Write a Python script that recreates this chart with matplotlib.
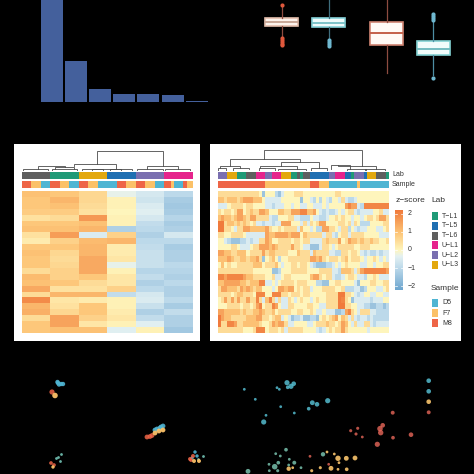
import numpy as np
import matplotlib
matplotlib.use("Agg")
import matplotlib.pyplot as plt
from matplotlib.colors import LinearSegmentedColormap, ListedColormap
from matplotlib.patches import Rectangle

plt.rcParams["font.family"] = ["Liberation Sans", "DejaVu Sans"]

# Bars
bar_values = [105, 40.5, 12.5, 7.5, 8, 6.5, 1]

# Boxes (y runs downwards)
box_stats = [
    dict(q1=26, med=22, q3=18, whislo=36, whishi=7, fliers=[5, 38, 40, 42, 44, 45]),
    dict(q1=27, med=22.5, q3=18, whislo=38, whishi=0, fliers=[40, 42, 44, 46]),
    dict(q1=45, med=32.5, q3=21.5, whislo=73, whishi=0, fliers=[]),
    dict(q1=55, med=48.5, q3=41, whislo=75, whishi=22, fliers=[14, 16, 18, 20, 78]),
]
box_edge = ["#e5bfae", "#86d3da", "#cf8472", "#84d3d4"]
box_median = ["#c9a797", "#7cc3c9", "#c4604a", "#74bcc0"]
box_whisker = ["#8e4c40", "#3f6d7c", "#8e4c40", "#4d8ea3"]
box_flier = ["#e0583c", "#6fb8d0", "#8e4c40", "#6fb8d0"]
box_fill = ["#fdf3ec", "#effbfb", "#fffaf6", "#f1fcfb"]

# Left heatmap, z-score per lab block
left_z = [
    [1.0, 0.9, 0.6, -0.3, -0.6, -1.0],
    [0.9, 1.2, 0.6, 0.1, -0.7, -1.3],
    [0.9, 1.0, 0.5, 0.1, -0.5, -1.4],
    [0.8, 0.8, 0.4, 0.0, -0.4, -1.3],
    [0.4, 0.5, 1.7, 0.1, -0.6, -1.1],
    [0.9, 0.9, 1.0, 0.1, -0.9, -1.3],
    [1.0, 1.0, 1.2, -1.2, -1.0, -1.2],
    [0.4, 1.6, -0.5, 0.7, -1.2, -0.6],
    [0.2, 0.7, 1.1, 1.2, -1.0, -1.0],
    [0.9, 0.9, 1.2, 0.2, -0.9, -1.3],
    [1.0, 0.6, 1.2, 0.2, -0.8, -1.2],
    [0.9, 0.5, 1.4, 0.3, -0.8, -1.2],
    [0.9, 0.6, 1.4, -0.3, -0.8, -1.0],
    [0.5, 0.7, 1.4, 0.1, -1.1, -1.1],
    [1.1, 0.7, 0.9, 0.3, -0.9, -1.2],
    [1.0, 0.9, 0.5, 0.3, -1.2, -1.0],
    [1.4, 0.4, 0.4, 0.7, -1.0, -1.2],
    [0.5, 1.2, 1.2, -0.9, -0.6, -1.2],
    [1.9, 0.3, 0.2, 0.1, -0.5, -1.0],
    [1.2, 0.4, 0.9, 0.1, -0.8, -1.3],
    [1.3, 0.6, 0.9, 0.2, -1.2, -0.9],
    [0.5, 1.5, 0.7, 0.3, -0.9, -1.2],
    [0.9, 1.5, 0.3, 0.1, -0.4, -1.2],
    [0.9, 1.0, 1.0, -0.4, 0.1, -1.4],
]

# Right heatmap, in half z-score steps, one row per gene
right_half_z = [
    [1,1,1,1,1,1,1,1,1,1,1,1,1,0,-3,0,0,0,-2,-3,-1,0,0,0,1,1,1,0,0,0,0,0,0,0,0,0,0,1,1,0,0,0,0,0,0,0,0,0,0,0,0,0,0,0],
    [2,2,1,2,2,2,1,2,3,3,3,2,2,2,0,-1,-1,-1,-1,-1,0,0,0,0,0,0,-3,0,0,-1,-2,0,-2,0,-1,-2,0,0,-1,1,-1,-2,-2,-1,0,0,0,0,0,0,0,0,0,0],
    [-1,-1,-1,0,1,1,1,1,0,1,1,0,0,0,0,-1,-1,-2,-1,-1,-1,0,0,-1,0,0,-1,-1,0,0,-1,-1,-1,0,-1,0,0,0,0,0,3,4,3,3,-1,-2,4,4,4,4,4,4,4,4],
    [1,0,1,1,0,1,3,3,0,1,2,1,1,3,3,2,0,0,0,2,2,1,1,3,3,3,4,4,2,2,3,0,-1,-2,-1,-2,-2,-1,0,-1,0,1,1,-1,-2,-1,-1,-1,-1,0,0,1,-1,-1],
    [2,3,2,2,1,2,3,3,2,1,3,3,1,1,1,1,-1,-2,-2,0,0,0,1,1,-1,-1,-2,-2,-2,0,-1,-1,-2,-2,-1,0,0,1,0,1,0,0,-1,0,0,-1,0,1,1,0,1,3,3,1],
    [5,5,1,2,2,1,2,1,2,1,0,1,-1,-1,-2,-1,-1,-2,-1,-1,3,3,3,0,0,0,-1,1,-1,1,0,1,3,3,0,0,0,0,1,1,0,1,-1,1,0,-2,-2,-2,0,0,0,0,1,1],
    [5,5,1,1,0,-1,1,1,3,3,2,2,2,2,2,3,1,0,0,1,0,1,1,1,1,-1,2,0,0,-1,0,-2,-2,3,3,1,1,0,-1,1,1,-2,0,-1,-2,-1,-1,0,0,0,-1,-1,0,1],
    [1,1,0,0,1,1,1,1,0,-1,-1,-1,-1,-1,-1,3,2,2,3,3,3,3,2,3,3,3,0,2,1,1,1,1,1,-1,1,1,-1,-2,0,1,1,-1,1,1,1,1,0,0,0,0,0,-1,-1,-1],
    [0,0,-1,-2,-3,-3,-3,-2,-2,-1,-2,-1,-1,1,1,3,2,0,0,1,1,1,1,0,1,1,0,1,1,-1,-1,-1,-1,1,2,1,1,1,3,0,1,3,2,2,1,2,1,1,2,1,1,0,0,1],
    [0,0,0,0,1,1,0,-1,-1,-1,0,1,1,3,3,3,2,3,2,1,1,1,1,3,1,1,0,-1,-1,-3,-3,-3,-1,1,1,0,-1,0,1,1,1,1,1,0,0,1,1,1,0,0,0,0,0,0],
    [3,3,2,2,1,1,2,2,2,0,1,1,1,1,3,1,2,2,1,1,1,1,0,0,0,2,1,1,1,-1,2,1,1,1,1,-1,-1,-2,-2,1,1,0,1,1,0,-1,-2,-1,-2,-2,-1,-2,-1,-1],
    [2,2,2,3,2,1,1,2,2,1,2,2,3,1,-3,0,1,2,0,-2,0,0,1,1,1,1,1,1,1,3,3,2,3,1,0,1,1,1,0,1,2,0,1,1,1,0,-1,0,0,1,0,-1,0,-1],
    [0,2,0,1,0,0,1,1,1,1,1,2,2,2,0,1,1,1,2,0,-1,0,0,1,1,0,1,1,0,-1,-2,-3,-3,-3,-2,-2,-1,0,-1,0,1,0,0,0,0,-1,-1,0,0,-1,0,0,1,1],
    [1,1,1,1,1,1,1,1,1,1,1,0,0,0,0,0,0,-3,-3,-2,0,0,0,1,1,1,1,1,0,0,0,0,1,1,1,1,-1,-1,-2,2,2,2,1,-1,1,3,4,4,4,4,4,4,4,3],
    [4,4,3,4,4,4,4,4,3,2,2,1,1,1,1,0,0,1,-1,-1,0,1,1,0,0,0,0,0,0,2,3,3,1,0,1,1,-1,-2,-2,-1,0,1,1,0,-1,-1,-2,0,0,1,0,-1,-1,-1],
    [2,2,3,3,3,3,3,2,2,1,2,2,2,4,4,-1,-1,0,-1,0,1,1,1,1,0,1,1,1,0,0,0,-2,-2,-3,-3,0,0,1,1,0,0,0,0,-1,-3,0,0,0,1,1,0,0,1,1],
    [1,3,3,2,2,2,1,3,2,3,2,1,2,2,0,0,0,-1,0,3,3,2,3,3,0,1,0,1,1,-1,0,0,0,1,1,1,1,0,0,1,-2,-2,-2,-1,-1,-3,-2,0,0,0,-1,-1,0,1],
    [1,1,1,1,0,1,2,2,1,1,1,0,4,4,4,0,0,4,4,4,1,1,0,1,1,1,0,1,1,0,0,0,0,0,1,1,1,1,5,5,1,1,0,-1,-2,-1,0,0,-1,-1,0,0,-1,-1],
    [0,1,3,1,3,1,3,1,1,3,1,1,4,1,-1,2,4,1,-1,1,-1,-1,1,0,-1,0,1,0,0,-1,0,1,0,0,1,1,1,1,5,4,1,0,-3,-1,-1,-1,-1,-1,-2,-1,-1,-1,0,0],
    [0,0,0,1,1,1,1,0,1,1,0,1,3,4,0,1,1,4,3,0,-1,-1,1,1,0,0,0,0,1,1,0,0,-1,-1,1,1,1,1,5,5,1,1,0,0,-1,-1,-2,-2,-3,-3,-2,-2,-3,-2],
    [3,3,2,2,2,2,2,1,2,1,1,2,2,3,2,1,1,2,0,1,1,1,1,0,0,1,1,0,0,1,0,-1,-1,0,-1,-1,-1,-3,-3,-2,3,4,1,0,-1,1,1,1,-1,-1,-2,-2,-2,-2],
    [5,3,2,2,1,1,1,1,1,2,2,2,3,3,1,1,0,1,2,2,-1,0,-1,-3,-2,-2,-1,-3,-3,-2,-2,-3,0,1,0,1,2,3,0,2,1,-1,1,-1,-2,-1,-1,-2,-1,-2,-2,-2,-2,-2],
    [5,1,1,4,4,3,1,1,2,2,2,2,2,1,0,0,1,3,2,3,3,1,-1,-1,0,0,0,0,-1,-1,0,1,1,1,2,1,1,0,1,3,2,0,-1,1,-1,-1,1,1,-1,-2,-1,-1,-1,-1],
    [1,1,1,1,1,1,1,1,0,0,0,1,4,4,4,0,1,1,1,0,1,-1,1,1,1,1,1,0,0,0,0,-1,-2,-1,0,1,0,1,1,3,1,0,0,0,0,0,0,-1,0,0,0,0,0,0],
]

# Annotation rows, run lengths in columns
lab_names = ["T\u2212L1", "T\u2212L5", "T\u2212L6", "U\u2212L1", "U\u2212L2", "U\u2212L3"]
lab_colors = ["#1f9a77", "#1f6fb2", "#5f5f5f", "#e6238c", "#7a6fb0", "#e3a80e"]
sample_names = ["D5", "F7", "M8"]
sample_colors = ["#4fb5d3", "#fbc168", "#ee6547"]

left_lab_runs = [(2, 9), (0, 9), (5, 9), (1, 9), (4, 9), (3, 9)]
left_sample_runs = [(2, 3), (1, 3), (0, 3), (2, 3), (1, 3), (0, 3), (2, 3), (1, 3), (0, 3), (0, 3), (2, 3), (1, 3),
                    (2, 3), (1, 3), (0, 3), (2, 2), (1, 1), (0, 3), (2, 1), (1, 2)]
right_lab_runs = [(4, 3), (5, 3), (0, 3), (2, 3), (3, 3), (4, 2), (3, 3), (5, 3), (0, 2), (2, 1), (0, 1), (2, 2),
                  (1, 6), (4, 2), (3, 3), (1, 2), (0, 1), (4, 3), (1, 1), (5, 3), (2, 3), (0, 1)]
right_sample_runs = [(2, 15), (1, 14), (2, 3), (1, 3), (0, 9), (1, 1), (0, 9)]

# Dendrogram joins: left x, right x, height, left child height, right child height
left_dendro = [
    (23.9, 44.8, 19.7, 6.7, 5.0),
    (16.5, 29.8, 6.7, 5.0, 1.7),
    (5.2, 13.5, 5.0, 1.7, 4.0),
    (10.5, 16.5, 4.0, 1.7, 1.7),
    (22.3, 31.3, 1.7, 0.4, 0.4),
    (39.5, 49.5, 5.0, 1.7, 1.7),
    (0.4, 8.4, 1.7, 0.4, 0.4),
    (9.4, 17.3, 1.7, 0.4, 0.4),
    (18.9, 25.8, 1.7, 0.4, 0.4),
    (27.9, 34.8, 1.7, 0.4, 0.4),
    (36.4, 44.8, 1.7, 0.4, 0.4),
    (45.3, 53.3, 1.7, 0.4, 0.4),
]
right_dendro = [
    (14.8, 45.8, 20.7, 12.3, 4.7),
    (3.9, 26.0, 12.3, 4.7, 8.7),
    (0.7, 7.1, 4.7, 2.5, 2.5),
    (0.0, 2.5, 2.5, 0.3, 0.3),
    (5.0, 10.0, 2.5, 0.3, 1.5),
    (20.0, 32.0, 8.7, 4.5, 3.0),
    (13.5, 25.0, 4.5, 2.5, 2.0),
    (13.0, 18.0, 2.5, 0.3, 0.3),
    (19.0, 28.0, 2.0, 0.3, 0.3),
    (29.5, 34.5, 3.0, 0.3, 0.3),
    (38.0, 50.0, 4.7, 6.0, 2.0),
    (36.0, 42.0, 6.0, 1.5, 1.5),
    (41.0, 47.0, 1.5, 0.3, 0.3),
    (46.5, 53.0, 2.0, 0.3, 0.3),
]

# Colour bar and legend
z_ticks = [2, 1, 0, -1, -2]
z_labels = ["2", "1", "0", "\u22121", "\u22122"]

# Scatter points, per sample colour
left_d5_x = [58, 59, 61, 63, 57.5, 160, 161, 163, 155, 157, 195, 197, 192]
left_d5_y = [383, 384.5, 384, 384, 382, 428, 427, 426, 430, 429, 452, 456, 458]
left_d5_s = [10, 10, 10, 10, 10, 12, 12, 12, 12, 12, 6, 6, 6]
left_teal_x = [61, 58, 56, 60, 203, 198]
left_teal_y = [454, 457, 458, 461, 456, 459]
left_m8_x = [52, 147, 150, 152, 51, 54, 190, 193, 191]
left_m8_y = [392, 437, 436.5, 435.5, 463, 465, 459, 456, 460]
left_m8_s = [14, 12, 12, 12, 7, 7, 8, 8, 8]
left_f7_x = [55, 155, 159, 163, 53, 194, 199]
left_f7_y = [395.5, 433, 431, 430, 467, 461, 461]
left_f7_s = [16, 12, 12, 12, 6, 8, 8]

right_d5_x = [287, 293.7, 291, 287.7, 277, 279.3, 244.3, 255.3, 327.7, 312.3, 317, 308.7, 280.7, 294.3, 266, 263.7, 428.7, 428.7]
right_d5_y = [382.7, 383.7, 386.3, 387.3, 387.7, 389.3, 389.3, 399.3, 400.7, 402.7, 404.3, 408.7, 406.7, 413, 415.3, 422, 380.7, 391.3]
right_d5_s = [14, 11, 14, 7, 4, 4, 4, 4, 14, 12, 11, 7, 4, 4, 4, 14, 11, 11]
right_m8_x = [428.7, 392.7, 382.7, 380, 380.7, 357.7, 350.7, 356, 362.3, 393, 411, 377.3, 310, 328.7]
right_m8_y = [412.3, 412.7, 425.3, 428.7, 432.7, 428.3, 430.7, 434, 437, 437.7, 434.7, 444.3, 456.3, 464.3]
right_m8_s = [8, 8, 11, 16, 15, 5, 5, 5, 4, 7, 11, 14, 4, 4]
right_teal_x = [286, 275.7, 280.3, 289.3, 278.3, 294.3, 269, 288.7, 274.7, 301, 269.3, 277.7, 248, 323]
right_teal_y = [449.7, 453.7, 456, 459.3, 462.7, 462.7, 464.3, 465, 466.7, 467.7, 470.7, 470.7, 471.3, 454.3]
right_teal_s = [7, 4, 4, 4, 7, 8, 4, 4, 16, 4, 4, 5, 12, 10]
right_f7_x = [428.7, 327, 334.3, 338, 346.3, 355, 339, 320.3, 331, 338, 346.7, 311.7, 288.7, 292.7]
right_f7_y = [401.7, 452, 454, 458.3, 458.3, 458, 462.7, 467.7, 468.3, 469.3, 469.3, 470.7, 468.7, 467.7]
right_f7_s = [11, 4, 4, 15, 12, 12, 4, 5, 12, 4, 7, 5, 10, 4]

SIZE = 474
heat_cmap = LinearSegmentedColormap.from_list(
    "zscore",
    [(0, "#6ea6cf"), (0.27, "#bcd9ea"), (0.42, "#e4f1f2"), (0.5, "#fff6bd"), (0.72, "#fdc476"), (1, "#f07a3c")],
)


def px_axes(x0, y0, x1, y1):
    # axes placed by picture pixels, y counted from the top
    ax = fig.add_axes([x0 / SIZE, 1 - y1 / SIZE, (x1 - x0) / SIZE, (y1 - y0) / SIZE])
    ax.axis("off")
    return ax


def draw_runs(x0, y0, x1, y1, runs, colors):
    ax = px_axes(x0, y0, x1, y1)
    row = np.repeat([r[0] for r in runs], [r[1] for r in runs])
    ax.imshow(row[np.newaxis, :], aspect="auto", cmap=ListedColormap(colors), vmin=0, vmax=len(colors) - 1,
              interpolation="nearest")


def draw_dendro(x0, y0, x1, y1, joins):
    ax = px_axes(x0, y0, x1, y1)
    ax.set_xlim(0, 54)
    ax.set_ylim(0, y1 - y0)
    for xl, xr, h, hl, hr in joins:
        ax.plot([xl, xl, xr, xr], [hl, h, h, hr], color="#4a4a4a", lw=0.6, solid_joinstyle="miter")


fig = plt.figure(figsize=(SIZE / 100, SIZE / 100), dpi=100, facecolor="black")

# Bar panel
ax = px_axes(37, 0, 209, 101.5)
ax.bar(range(7), bar_values, width=0.91, color="#44609c")
ax.set_xlim(-0.6, 6.5)
ax.set_ylim(0, 101.5)

# Box panel
ax = px_axes(255, 0, 460, 85)
box_pos = [281.5, 328.5, 386.5, 433.5]
for i, st in enumerate(box_stats):
    ax.bxp([st], positions=[box_pos[i]], widths=33, patch_artist=True, showcaps=False,
           boxprops=dict(facecolor=box_fill[i], edgecolor=box_edge[i], lw=1.2),
           medianprops=dict(color=box_median[i], lw=1.4),
           whiskerprops=dict(color=box_whisker[i], lw=0.9),
           flierprops=dict(marker="o", ms=3, mfc=box_flier[i], mec="none"))
ax.set_xlim(255, 460)
ax.set_ylim(85, 0)
ax.axis("off")

# White heatmap panels
bg = px_axes(0, 0, SIZE, SIZE)
bg.set_xlim(0, SIZE)
bg.set_ylim(SIZE, 0)
bg.add_patch(Rectangle((14.5, 144), 185.5, 197, color="white", lw=0))
bg.add_patch(Rectangle((210, 144), 251, 197, color="white", lw=0))

# Left heatmap
draw_dendro(22, 148, 192.3, 171, left_dendro)
draw_runs(22, 171.7, 192.3, 179, left_lab_runs, lab_colors)
draw_runs(22, 181, 192.3, 187.7, left_sample_runs, sample_colors)
ax = px_axes(22, 191.3, 192.3, 333.3)
ax.imshow(left_z, aspect="auto", cmap=heat_cmap, vmin=-2.2, vmax=2.2, interpolation="nearest")

# Right heatmap
draw_dendro(217.7, 148, 388.3, 171, right_dendro)
draw_runs(217.7, 171.7, 388.3, 178.7, right_lab_runs, lab_colors)
draw_runs(217.7, 180.7, 388.3, 188, right_sample_runs, sample_colors)
ax = px_axes(217.7, 191.3, 388.3, 333.3)
ax.imshow(np.array(right_half_z) / 2, aspect="auto", cmap=heat_cmap, vmin=-2.2, vmax=2.2, interpolation="nearest")

# Colour bar
ax = px_axes(395, 210, 403, 290)
ax.imshow(np.linspace(2.2, -2.2, 200)[:, np.newaxis], aspect="auto", cmap=heat_cmap, vmin=-2.2, vmax=2.2,
          extent=[0, 1, -2.2, 2.2])
for t in z_ticks:
    ax.plot([0, 0.25], [t, t], color="white", lw=0.5)
    ax.plot([0.75, 1], [t, t], color="white", lw=0.5)
ax.set_xlim(0, 1)
ax.set_ylim(-2.2, 2.2)
for t, lab in zip(z_ticks, z_labels):
    ax.annotate(lab, (1, t), xytext=(3.5, 0), textcoords="offset points", fontsize=5, va="center", color="#333333")

# Row labels and legends
txt = dict(fontsize=5, va="center", color="#333333")
bg.text(392, 175, "Lab", **txt)
bg.text(392, 184, "Sample", **txt)
bg.text(396, 200.5, "z\u2212score", fontsize=6, va="center", color="#333333")
bg.text(431, 200.5, "Lab", fontsize=6, va="center", color="#333333")
bg.text(431, 288, "Sample", fontsize=6, va="center", color="#333333")
for i, name in enumerate(lab_names):
    bg.add_patch(Rectangle((432, 212 + i * 9.8), 6, 8, color=lab_colors[i], lw=0))
    bg.text(442, 216 + i * 9.8, name, **txt)
for i, name in enumerate(sample_names):
    bg.add_patch(Rectangle((432, 299 + i * 10.2), 6, 8, color=sample_colors[i], lw=0))
    bg.text(442, 303 + i * 10.2, name, **txt)

# Scatter panels
ax = px_axes(0, 370, SIZE, SIZE)
ax.set_xlim(0, SIZE)
ax.set_ylim(SIZE, 370)
ax.scatter(left_d5_x, left_d5_y, s=left_d5_s, color="#4fb5d3", lw=0, alpha=0.9)
ax.scatter(left_teal_x, left_teal_y, s=4, color="#72c2b4", lw=0, alpha=0.9)
ax.scatter(left_m8_x, left_m8_y, s=left_m8_s, color="#ee6547", lw=0, alpha=0.85)
ax.scatter(left_f7_x, left_f7_y, s=left_f7_s, color="#fbc168", lw=0, alpha=0.95)
ax.scatter(right_d5_x, right_d5_y, s=right_d5_s, color="#54bccf", lw=0, alpha=0.85)
ax.scatter(right_m8_x, right_m8_y, s=right_m8_s, color="#e8675a", lw=0, alpha=0.8)
ax.scatter(right_teal_x, right_teal_y, s=right_teal_s, color="#7fcdb8", lw=0, alpha=0.8)
ax.scatter(right_f7_x, right_f7_y, s=right_f7_s, color="#f9c46c", lw=0, alpha=0.9)

fig.savefig("out.png", dpi=100, facecolor="black")
